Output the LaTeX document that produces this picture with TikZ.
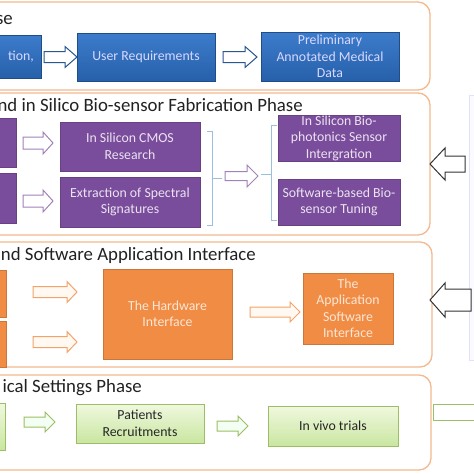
\documentclass[tikz,border=0pt]{standalone}
\usepackage{fontspec}
\setmainfont{Carlito}
\definecolor{panelc}{HTML}{F4B98E}
\definecolor{blueT}{HTML}{3C7CCB}
\definecolor{blueB}{HTML}{2760AA}
\definecolor{purp}{HTML}{7A4C9C}
\definecolor{orng}{HTML}{F08C44}
\definecolor{grnT}{HTML}{F0F8DF}
\definecolor{grnB}{HTML}{C9E6A0}
\definecolor{grnD}{HTML}{9DBE64}
\definecolor{brk}{HTML}{9CBFDF}
\definecolor{titlec}{HTML}{222222}
\newcommand\barrow[7]{%
  \draw[#1] ({#2},{#4-(#5)}) -- ({#3-(#7)},{#4-(#5)}) -- ({#3-(#7)},{#4-(#6)}) -- ({#3},{#4}) -- ({#3-(#7)},{#4+(#6)}) -- ({#3-(#7)},{#4+(#5)}) -- ({#2},{#4+(#5)}) -- cycle;}
\tikzset{
  panel/.style={draw=panelc, line width=1.3pt, rounded corners=12pt, fill=white},
  boxtxt/.style={align=center, font=\fontsize{13.8}{16.5}\selectfont, inner sep=0pt},
  bluebox/.style={boxtxt, draw=blueB!80!black, line width=0.4pt, top color=blueT, bottom color=blueB, text=white!85!blue},
  purpbox/.style={boxtxt, draw=purp!85!black, line width=0.4pt, fill=purp, text=white!85!purp},
  orngbox/.style={boxtxt, draw=orng!85!black, line width=0.4pt, fill=orng, text=white!78!orng},
  grnbox/.style={boxtxt, draw=grnD, line width=0.8pt, top color=grnT, bottom color=grnB, text=black!85},
  ttl/.style={anchor=east, inner sep=0pt, font=\fontsize{18.8}{22}\selectfont, text=titlec},
  arB/.style={draw=blueT!70!black, line width=1pt, fill=white},
  arP/.style={draw=purp!70!white, line width=1pt, fill=white},
  arO/.style={draw=orng!80!white, line width=1pt, fill=white!95!orange},
  arG/.style={draw=grnD, line width=1pt, fill=white!95!green},
  arK/.style={draw=black!80, line width=1pt, fill=white},
  brack/.style={draw=brk, line width=0.9pt}
}
\begin{document}
\begin{tikzpicture}[x=1pt,y=-1pt]
\useasboundingbox (0,0) rectangle (474,474);
\clip (0,0) rectangle (474,474);
\fill[white] (0,0) rectangle (474,474);
% faint backdrop on the right
\draw[blue!12, fill=blue!2] (469,95) rectangle (490,360);
% panels
\node[panel, minimum width=470pt, minimum height=88pt] (pan1) at (195,46) {};
\node[panel, minimum width=470pt, minimum height=142pt] (pan2) at (195,164) {};
\node[panel, minimum width=472pt, minimum height=125pt] (pan3) at (196,304.5) {};
\node[panel, minimum width=471pt, minimum height=95pt] (pan4) at (195.5,422.5) {};
% titles
\node[ttl] (t1) at (13,20) {se};
\node[ttl] (t2) at (303,105) {nd in Silico Bio-sensor Fabrication Phase};
\node[ttl] (t3) at (256,255) {nd Software Application Interface};
\node[ttl] (t4) at (142,388) {ical Settings Phase};
% row 1
\node[bluebox, minimum width=142pt, minimum height=43pt] (a) at (-30,56.5) {};
\node[boxtxt, text=white!85!blue, anchor=east] (atxt) at (34,57) {tion,};
\node[bluebox, minimum width=138pt, minimum height=48pt] (b) at (146,57) {User Requirements};
\node[bluebox, minimum width=138pt, minimum height=49pt] (c) at (330,56.5) {Preliminary\\Annotated Medical\\Data};
\barrow{arB}{44}{77}{57}{5.5}{10.5}{12}
\barrow{arB}{223}{257}{57}{5.5}{10.5}{12}
% row 2
\node[purpbox, minimum width=116pt, minimum height=49pt] (p1) at (-42,142.5) {};
\node[purpbox, minimum width=116pt, minimum height=50pt] (p2) at (-42,198) {};
\node[purpbox, minimum width=140pt, minimum height=49pt] (p3) at (130,146.5) {In Silicon CMOS\\Research};
\node[purpbox, minimum width=140pt, minimum height=50pt] (p4) at (130,202) {Extraction of Spectral\\Signatures};
\node[purpbox, minimum width=122pt, minimum height=46pt] (p5) at (339,138) {In Silicon Bio-\\photonics Sensor\\Intergration};
\node[purpbox, minimum width=122pt, minimum height=46pt] (p6) at (339,202) {Software-based Bio-\\sensor Tuning};
\barrow{arP}{23}{53}{143}{6}{11}{10}
\barrow{arP}{23}{53}{201}{6}{11}{10}
\draw[brack] (207,131) -- (212,131) -- (212,225) -- (207,225);
\draw[brack] (212,178) -- (222,178);
\draw[brack] (277,125) -- (271,125) -- (271,220) -- (277,220);
\draw[brack] (271,174) -- (261,174);
\barrow{arP}{225}{258}{176}{4.5}{11}{11}
% row 3
\node[orngbox, minimum width=106pt, minimum height=47pt] (o1) at (-47,293.5) {};
\node[orngbox, minimum width=106pt, minimum height=46pt] (o2) at (-47,344) {};
\node[orngbox, minimum width=129pt, minimum height=90pt] (o3) at (167.5,314) {The Hardware\\Interface};
\node[orngbox, minimum width=90pt, minimum height=71pt] (o4) at (348,308.5) {The\\Application\\Software\\Interface};
\barrow{arO}{33}{77}{292}{5.5}{10.5}{10}
\barrow{arO}{33}{77}{342}{5.5}{10.5}{10}
\barrow{arO}{250}{300}{312}{5}{10}{10}
% row 4
\node[grnbox, minimum width=105pt, minimum height=47pt] (g1) at (-47.5,426.5) {};
\node[grnbox, minimum width=128pt, minimum height=39pt] (g2) at (140,423.5) {Patients\\Recruitments};
\node[grnbox, minimum width=130pt, minimum height=40pt] (g3) at (333,426) {In vivo trials};
\barrow{arG}{24}{55}{422}{5}{10}{10}
\barrow{arG}{217}{248}{426}{5}{10}{10}
% big side arrows
\barrow{arK}{465}{430}{164}{8}{16}{-15}
\barrow{arK}{471}{430}{300}{11}{17}{-15}
\draw[draw=grnD, line width=1pt, fill=white] (433,404) rectangle (480,420);
\end{tikzpicture}
\end{document}
